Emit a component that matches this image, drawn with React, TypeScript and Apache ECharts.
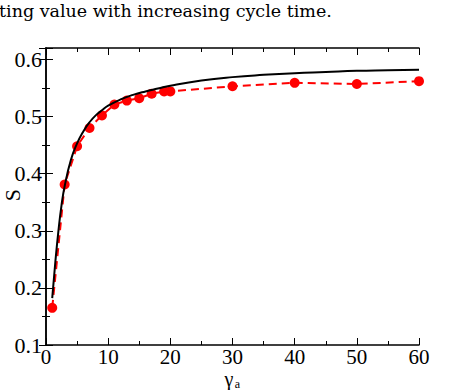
import React, { useEffect, useRef } from "react";
import * as echarts from "echarts";

const pointX = [1, 3, 5, 7, 9, 11, 13, 15, 17, 19, 20, 30, 40, 50, 60];
const pointY = [0.165, 0.381, 0.448, 0.480, 0.502, 0.521, 0.528, 0.532, 0.540, 0.544, 0.544, 0.553, 0.559, 0.557, 0.562];

const curveX = [1, 1.5, 2, 2.5, 3, 4, 5, 6, 7, 8, 9, 10, 12, 14, 16, 18, 20, 25, 30, 35, 40, 45, 50, 55, 60];
const curveY = [0.182, 0.245, 0.3, 0.345, 0.378, 0.424, 0.453, 0.474, 0.49, 0.502, 0.511, 0.519, 0.53, 0.538, 0.544, 0.549, 0.554, 0.563, 0.569, 0.573, 0.576, 0.578, 0.58, 0.581, 0.582];

const captionText = "ting value with increasing cycle time.";
const yName = "S";
const xNameMain = "γ";
const xNameSub = "a";

const FONT = "'Liberation Serif', 'DejaVu Serif', serif";

export default function App() {
  const ref = useRef<HTMLDivElement>(null);
  useEffect(() => {
    if (!ref.current) return;
    const chart = echarts.init(ref.current, null, { renderer: "svg" });
    const axisLine = { show: true, lineStyle: { color: "#000", width: 1.5 } };
    const baseX = {
      type: "value" as const,
      min: 0,
      max: 60,
      interval: 10,
      axisLine,
      axisTick: { show: true, inside: true, length: 7, lineStyle: { color: "#000", width: 1 } },
      minorTick: { show: true, splitNumber: 2, length: 4, lineStyle: { color: "#000", width: 1 } },
      splitLine: { show: false },
    };
    const baseY = {
      type: "value" as const,
      min: 0.1,
      max: 0.62,
      interval: 0.1,
      axisLine,
      axisTick: { show: true, inside: true, length: 7, lineStyle: { color: "#000", width: 1 } },
      minorTick: { show: true, splitNumber: 2, length: 4, lineStyle: { color: "#000", width: 1 } },
      splitLine: { show: false },
    };
    chart.setOption({
      animation: false,
      backgroundColor: "#fff",
      title: {
        text: captionText,
        left: -1,
        top: 2,
        padding: 0,
        textStyle: { fontFamily: "'DejaVu Serif', serif", fontSize: 17.5, fontWeight: "normal", color: "#000" },
      },
      grid: { left: 46, right: 55, top: 48, bottom: 45, outerBoundsMode: "none", containLabel: false },
      graphic: [
        {
          type: "text",
          x: 12,
          y: 195,
          rotation: Math.PI / 2,
          style: { text: yName, font: `22px ${FONT}`, fill: "#000", align: "center", verticalAlign: "middle" },
        },
        {
          type: "text",
          x: 229,
          y: 378.5,
          style: { text: xNameMain, font: `20px ${FONT}`, fill: "#000", align: "center", verticalAlign: "middle" },
        },
        {
          type: "text",
          x: 237.5,
          y: 383.5,
          style: { text: xNameSub, font: `12px ${FONT}`, fill: "#000", align: "center", verticalAlign: "middle" },
        },
      ],
      xAxis: [
        {
          ...baseX,
          position: "bottom",
          axisLabel: { show: true, fontFamily: FONT, fontSize: 21, color: "#000", margin: 1 },
        },
        {
          ...baseX,
          position: "top",
          axisLabel: { show: false },
        },
      ],
      yAxis: [
        {
          ...baseY,
          position: "left",
          axisLabel: {
            show: true,
            fontFamily: FONT,
            fontSize: 22,
            color: "#000",
            margin: 4,
            showMaxLabel: false,
            formatter: (v: number) => v.toFixed(1),
          },
        },
        {
          ...baseY,
          position: "right",
          axisLabel: { show: false },
        },
      ],
      series: [
        {
          type: "line",
          data: curveX.map((x, i) => [x, curveY[i]]),
          smooth: true,
          showSymbol: false,
          lineStyle: { color: "#000", width: 2 },
          z: 3,
        },
        {
          type: "line",
          data: pointX.map((x, i) => [x, pointY[i]]),
          symbol: "circle",
          symbolSize: 10,
          itemStyle: { color: "#ff0000" },
          lineStyle: { color: "#ff0000", width: 2, type: [8, 5] },
          z: 2,
        },
      ],
    });
    return () => chart.dispose();
  }, []);
  return <div ref={ref} style={{ width: 474, height: 390, position: "absolute", left: 0, top: 0 }} />;
}
